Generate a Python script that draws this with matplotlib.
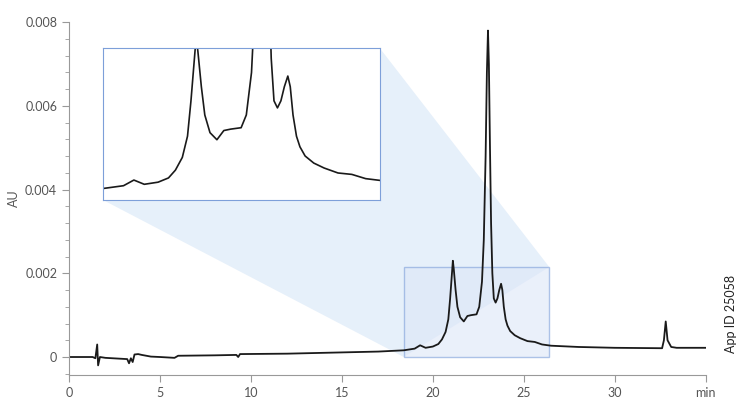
import numpy as np
import matplotlib.pyplot as plt
from matplotlib.patches import Polygon, Rectangle

plt.rcParams['font.family'] = ['Lato', 'DejaVu Sans']

# retention time (min) and absorbance (AU)
time = [0, 1.3, 1.45, 1.55, 1.6, 1.7, 2.0, 3.2, 3.3, 3.4, 3.5, 3.6, 3.8, 4.0, 4.5, 5.0, 5.8, 6.0,
        8.0, 9.2, 9.3, 9.4, 12.0, 15.0, 17.0, 18.4, 19.0, 19.3, 19.6, 20.0, 20.3, 20.5, 20.7, 20.85,
        20.95, 21.05, 21.1, 21.15, 21.25, 21.35, 21.5, 21.7, 21.9, 22.1, 22.4, 22.55, 22.7, 22.8,
        22.9, 22.97, 23.03, 23.08, 23.14, 23.2, 23.27, 23.35, 23.45, 23.55, 23.65, 23.75, 23.82,
        23.9, 24.0, 24.1, 24.25, 24.5, 24.8, 25.2, 25.6, 26.0, 26.5, 28.0,
        30.0, 32.6, 32.7, 32.8, 32.9, 33.1, 33.4, 35.0]
au = [0, 0, -0.00003, 0.0003, -0.0002, 0.0, -0.00002, -0.00005, -0.00015, -0.00003, -0.00012,
      0.00006, 0.00007, 0.00005, 0.00001, 0.0, -0.00002, 0.00003, 0.00004, 0.00005, 0.0000,
      0.00007, 0.00008, 0.00011, 0.00013, 0.00016, 0.0002, 0.00028, 0.00022, 0.00025, 0.00031,
      0.00042, 0.0006, 0.0009, 0.0014, 0.0020, 0.0023, 0.0021, 0.0016, 0.0012, 0.00095, 0.00085,
      0.00098, 0.001, 0.00102, 0.0012, 0.0018, 0.0028, 0.0048, 0.0068, 0.0078, 0.0070, 0.0050,
      0.0032, 0.0020, 0.0014, 0.0013, 0.0014, 0.0016, 0.00175, 0.0016, 0.0012, 0.0009, 0.00075,
      0.00062, 0.00052, 0.00045, 0.00038, 0.00036, 0.0003, 0.00027, 0.00024, 0.00022,
      0.00021, 0.0004, 0.00085, 0.0004, 0.00024, 0.00022, 0.00022]

zoom_x = (18.4, 26.4)
zoom_y = (0.0, 0.00215)

blue = '#7d9fd9'
grey = '#555555'

fig = plt.figure(figsize=(7.5, 4.19), dpi=100)

# connecting wedge, drawn first so it sits behind the axes
wedge_ax = fig.add_axes([0, 0, 1, 1])
wedge_ax.set_axis_off()
wedge_ax.set_xlim(0, 1)
wedge_ax.set_ylim(0, 1)

ax = fig.add_axes([0.092, 0.105, 0.849, 0.842])
ax.set_facecolor('none')
ax.plot(time, au, color='#1a1a1a', lw=1.3)
ax.set_xlim(0, 35)
ax.set_ylim(-0.00043, 0.008)
ax.set_xticks([0, 5, 10, 15, 20, 25, 30, 35])
ax.set_xticklabels(['0', '5', '10', '15', '20', '25', '30', 'min'])
ax.set_yticks([0, 0.002, 0.004, 0.006, 0.008])
ax.set_yticklabels(['0', '0.002', '0.004', '0.006', '0.008'])
ax.set_yticks(np.arange(-0.0004, 0.0081, 0.0004), minor=True)
ax.spines['top'].set_visible(False)
ax.spines['right'].set_visible(False)
for s in ('left', 'bottom'):
    ax.spines[s].set_color('#999999')
ax.tick_params(colors='#999999', labelcolor=grey, labelsize=9, length=5)
ax.tick_params(which='minor', colors='#999999', length=3)
ax.set_ylabel('AU', color=grey, fontsize=9)
ax.add_patch(Rectangle((zoom_x[0], zoom_y[0]), zoom_x[1] - zoom_x[0], zoom_y[1] - zoom_y[0],
                       facecolor='#dde6f8', alpha=0.6, edgecolor=blue, lw=1, zorder=0))

# inset
ins = fig.add_axes([0.137, 0.523, 0.369, 0.363])
ins.plot(time, au, color='#1a1a1a', lw=1.2)
ins.set_xlim(*zoom_x)
ins.set_ylim(*zoom_y)
ins.set_xticks([])
ins.set_yticks([])
for s in ins.spines.values():
    s.set_color(blue)

fig.canvas.draw()
def to_fig(x, y):
    return fig.transFigure.inverted().transform(ax.transData.transform((x, y)))

p1 = to_fig(zoom_x[0], zoom_y[0])
p2 = to_fig(zoom_x[1], zoom_y[1])
wedge_ax.add_patch(Polygon([(0.137, 0.523), p1, p2, (0.506, 0.886)], closed=True,
                           facecolor='#d6e6f7', alpha=0.6, edgecolor='none'))

fig.text(0.975, 0.25, 'App ID 25058', rotation=90, ha='center', va='center',
         fontsize=9, color='#222222')

fig.savefig('out.png', dpi=100)
